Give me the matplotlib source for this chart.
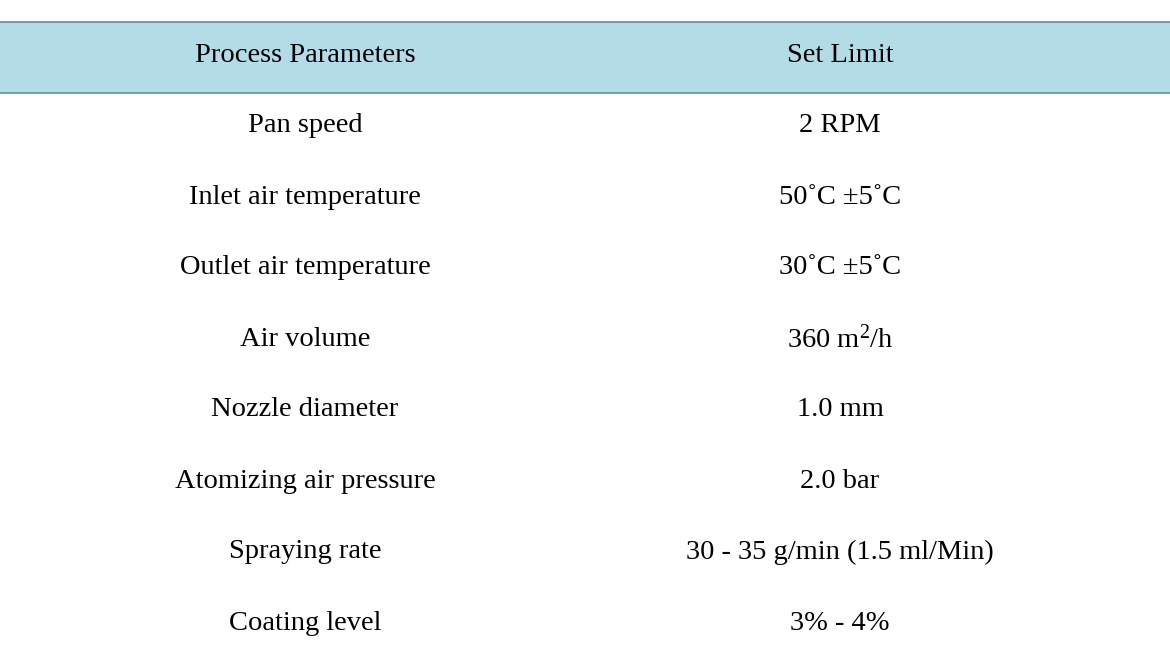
import matplotlib
matplotlib.use("Agg")
import matplotlib.pyplot as plt

plt.rcParams["mathtext.fontset"] = "custom"
plt.rcParams["mathtext.rm"] = "Liberation Serif"
plt.rcParams["mathtext.default"] = "rm"

headers = ["Process Parameters", "Set Limit"]
params = ["Pan speed", "Inlet air temperature", "Outlet air temperature", "Air volume",
          "Nozzle diameter", "Atomizing air pressure", "Spraying rate", "Coating level"]
limits = ["2 RPM", "50˚C ±5˚C", "30˚C ±5˚C", "360 m$^2$/h", "1.0 mm", "2.0 bar",
          "30 - 35 g/min (1.5 ml/Min)", "3% - 4%"]

W, H = 1170, 659
fig = plt.figure(figsize=(W/100, H/100), dpi=100)
ax = fig.add_axes([0, 0, 1, 1])
ax.set_xlim(0, W); ax.set_ylim(H, 0); ax.axis("off")

ax.add_patch(plt.Rectangle((0, 22), W, 71, color="#b3dce6", lw=0))
ax.plot([0, W], [22, 22], color="#5f8fa0", lw=1.2)
ax.plot([0, W], [93, 93], color="#5f8fa0", lw=1.2)
cx = [305, 840]
fam = ["Liberation Serif", "DejaVu Serif"]
fs = 20.5
for x, h in zip(cx, headers):
    ax.text(x, 56, h, ha="center", va="center", fontsize=fs, family=fam)
for i, (p, l) in enumerate(zip(params, limits)):
    y = 126 + i * 71
    ax.text(cx[0], y, p, ha="center", va="center", fontsize=fs, family=fam)
    ax.text(cx[1], y, l, ha="center", va="center", fontsize=fs, family=fam)
fig.savefig("out.png", dpi=100)
